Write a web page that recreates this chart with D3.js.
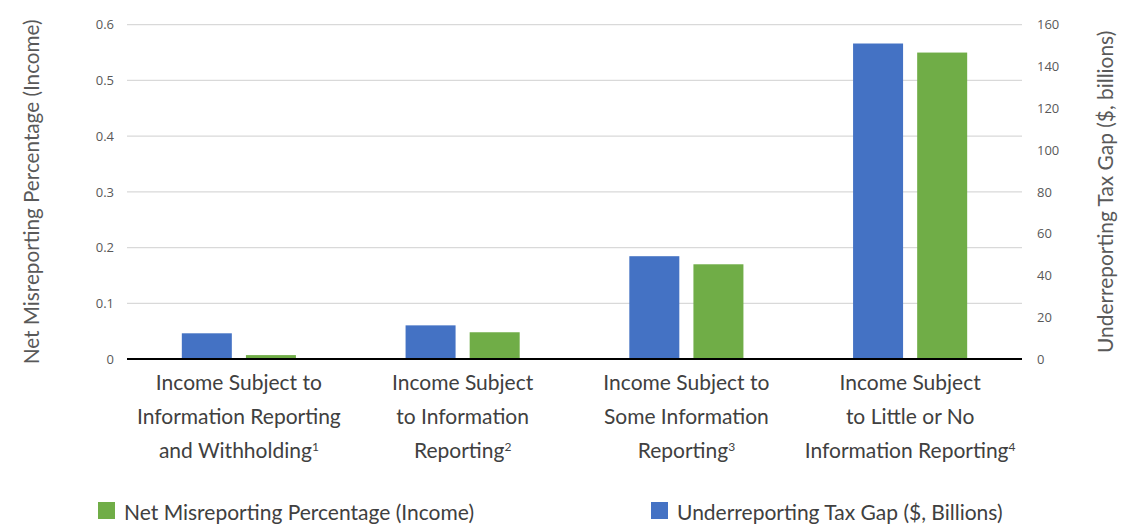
<!DOCTYPE html>
<html>
<head>
<meta charset="utf-8">
<script src="https://cdn.jsdelivr.net/npm/d3@7"></script>
<style>
  body { margin: 0; background: #fff; }
  svg text { font-family: Lato, "Open Sans", sans-serif; }
</style>
</head>
<body>
<svg id="chart"></svg>
<script>
const categories = [
  ["Income Subject to", "Information Reporting", "and Withholding|1"],
  ["Income Subject", "to Information", "Reporting|2"],
  ["Income Subject to", "Some Information", "Reporting|3"],
  ["Income Subject", "to Little or No", "Information Reporting|4"],
];
const taxGap = [12.3, 16.1, 49.2, 151];
const misreporting = [0.007, 0.048, 0.17, 0.55];
const leftTicks = [0, 0.1, 0.2, 0.3, 0.4, 0.5, 0.6];
const rightTicks = [0, 20, 40, 60, 80, 100, 120, 140, 160];
const seriesNames = ["gap", "pct"];

const width = 1125;
const height = 531;
const margin = { top: 24.7, right: 103, bottom: 172, left: 127 };
const blue = "#4472c4";
const green = "#70ad47";

const svg = d3.select("#chart").attr("width", width).attr("height", height);

const x0 = d3
  .scaleBand()
  .domain(d3.range(categories.length))
  .range([margin.left, width - margin.right]);

const groupW = x0.bandwidth() * 0.51;
const x1 = d3
  .scaleBand()
  .domain(seriesNames)
  .range([(x0.bandwidth() - groupW) / 2, (x0.bandwidth() + groupW) / 2])
  .paddingInner(0.22);

const yLeft = d3
  .scaleLinear()
  .domain([0, 0.6])
  .range([height - margin.bottom, margin.top]);
const yRight = d3
  .scaleLinear()
  .domain([0, 160])
  .range([height - margin.bottom, margin.top]);

// gridlines
svg
  .append("g")
  .selectAll("line")
  .data(leftTicks.slice(1))
  .enter()
  .append("line")
  .attr("x1", margin.left)
  .attr("x2", width - margin.right)
  .attr("y1", (d) => yLeft(d))
  .attr("y2", (d) => yLeft(d))
  .attr("stroke", "#d9d9d9")
  .attr("stroke-width", 1.2);

// axes
const leftAxis = d3
  .axisLeft(yLeft)
  .tickValues(leftTicks)
  .tickFormat((d) => (d === 0 ? "0" : d3.format(".1f")(d)))
  .tickSize(0)
  .tickPadding(13);
const rightAxis = d3
  .axisRight(yRight)
  .tickValues(rightTicks)
  .tickSize(0)
  .tickPadding(15);

svg
  .append("g")
  .attr("transform", `translate(${margin.left},0)`)
  .call(leftAxis)
  .call((g) => g.select(".domain").remove());
svg
  .append("g")
  .attr("transform", `translate(${width - margin.right},0)`)
  .call(rightAxis)
  .call((g) => g.select(".domain").remove());

svg
  .selectAll(".tick text")
  .attr("fill", "#595959")
  .style("font-family", "'Open Sans', sans-serif")
  .style("font-size", "13px");

// bars
const groups = svg
  .append("g")
  .selectAll("g")
  .data(categories.map((c, i) => i))
  .enter()
  .append("g")
  .attr("transform", (i) => `translate(${x0(i)},0)`);

groups
  .append("rect")
  .attr("x", x1("gap"))
  .attr("width", x1.bandwidth())
  .attr("y", (i) => yRight(taxGap[i]))
  .attr("height", (i) => yRight(0) - yRight(taxGap[i]))
  .attr("fill", blue);

groups
  .append("rect")
  .attr("x", x1("pct"))
  .attr("width", x1.bandwidth())
  .attr("y", (i) => yLeft(misreporting[i]))
  .attr("height", (i) => yLeft(0) - yLeft(misreporting[i]))
  .attr("fill", green);

// baseline
svg
  .append("line")
  .attr("x1", margin.left)
  .attr("x2", width - margin.right)
  .attr("y1", yLeft(0))
  .attr("y2", yLeft(0))
  .attr("stroke", "#000")
  .attr("stroke-width", 2.2);

// category labels
categories.forEach((lines, i) => {
  const cx = x0(i) + x0.bandwidth() / 2;
  const t = svg
    .append("text")
    .attr("x", cx)
    .attr("y", 390)
    .attr("text-anchor", "middle")
    .attr("fill", "#404040")
    .style("font-size", "21px");
  lines.forEach((line, j) => {
    const [txt, sup] = line.split("|");
    t.append("tspan")
      .attr("x", cx)
      .attr("dy", j === 0 ? 0 : 34)
      .text(txt);
    if (sup) {
      t.append("tspan")
        .attr("dy", -7)
        .style("font-size", "12px")
        .text(sup);
      t.append("tspan").attr("dy", 7).text("");
    }
  });
});

// axis titles
const plotMid = (yLeft(0) + yLeft(0.6)) / 2;
svg
  .append("text")
  .attr("transform", `translate(31,${plotMid}) rotate(-90)`)
  .attr("text-anchor", "middle")
  .attr("dominant-baseline", "central")
  .attr("fill", "#595959")
  .style("font-size", "20.7px")
  .text("Net Misreporting Percentage (Income)");

svg
  .append("text")
  .attr("transform", `translate(1104,${plotMid}) rotate(-90)`)
  .attr("text-anchor", "middle")
  .attr("dominant-baseline", "central")
  .attr("fill", "#595959")
  .style("font-size", "20.9px")
  .text("Underreporting Tax Gap ($, billions)");

// legend
const legendItems = [
  { label: "Net Misreporting Percentage (Income)", color: green, x: 98 },
  { label: "Underreporting Tax Gap ($, Billions)", color: blue, x: 651 },
];
const legend = svg
  .append("g")
  .selectAll("g")
  .data(legendItems)
  .enter()
  .append("g")
  .attr("transform", (d) => `translate(${d.x},502)`);
legend
  .append("rect")
  .attr("width", 17)
  .attr("height", 17)
  .attr("fill", (d) => d.color);
legend
  .append("text")
  .attr("x", 26)
  .attr("y", 9)
  .attr("dominant-baseline", "central")
  .attr("fill", "#404040")
  .style("font-size", "21px")
  .text((d) => d.label);
</script>
</body>
</html>
